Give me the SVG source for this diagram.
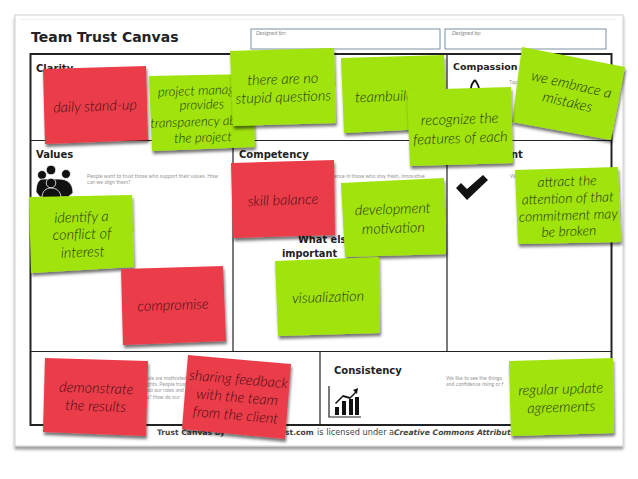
<svg xmlns="http://www.w3.org/2000/svg" width="638" height="479" viewBox="0 0 638 479">
<style>
.h{font-family:"DejaVu Sans","Liberation Sans",sans-serif;font-weight:700;fill:#222}
.s{font-family:"Lato","Liberation Sans",sans-serif;font-size:5.2px;fill:#999}
.d{font-family:"Lato","Liberation Sans",sans-serif;font-style:italic;font-size:5.5px;fill:#888}
.l{stroke:#222;fill:none}
.n{font-family:"Lato","Open Sans",sans-serif;font-style:italic;font-weight:300;font-size:14.500px;text-anchor:middle}
.m{font-size:13.200px}
.t{font-size:13.800px}
.g polygon{fill:#a0e30b;filter:url(#sh)}
.r polygon{fill:#ea3d49;filter:url(#sh)}
.g text{fill:#1c3000}
.r text{fill:#470a12}
.f{font-family:"DejaVu Sans","Liberation Sans",sans-serif;font-size:7.600px;fill:#444}
</style>
<defs>
<filter id="sh" x="-10%" y="-10%" width="120%" height="125%"><feDropShadow dx="1" dy="3" stdDeviation="1.600" flood-color="#000" flood-opacity="0.55"/></filter>
<filter id="ps" x="-3%" y="-3%" width="106%" height="106%"><feDropShadow dx="0" dy="3" stdDeviation="1.500" flood-color="#000" flood-opacity="0.4"/></filter>
</defs>
<rect width="638" height="479" fill="#fff"/>
<g id="page">
<rect x="15" y="15" width="608" height="431" fill="#fff" stroke="#d0d0d0" filter="url(#ps)"/>
<line x1="20" y1="19.500" x2="616" y2="19.500" stroke="#eee"/>
</g>
<g id="sheet">
<text class="h" x="31" y="42" font-size="14">Team Trust Canvas</text>
<rect x="251" y="29" width="189" height="20" fill="#fff" stroke="#7d90a0"/>
<rect x="445" y="29" width="161" height="20" fill="#fff" stroke="#7d90a0"/>
<text class="d" x="256" y="35">Designed for:</text>
<text class="d" x="452" y="35">Designed by:</text>
<rect class="l" x="30.500" y="54" width="581" height="371" stroke-width="2"/>
<path class="l" stroke-width="1.200" d="M31 140.500H611M31 351.500H611M233 140V351M447 54V351M320 351V425"/>
<text class="h" x="36" y="72" font-size="10">Clarity</text>
<text class="h" x="36" y="158" font-size="10">Values</text>
<text class="h" x="239" y="158" font-size="10">Competency</text>
<text class="h" x="453" y="70" font-size="9.500">Compassion</text>
<text class="h" x="511" y="158" font-size="10">nt</text>
<rect x="280" y="232" width="62" height="28" fill="#fff"/>
<text class="h" x="298" y="243" font-size="9.800">What else is</text>
<text class="h" x="282" y="257" font-size="9.800">important</text>
<text class="h" x="334" y="374" font-size="10">Consistency</text>
<text class="s" x="87" y="178">People want to trust those who support their values. How</text>
<text class="s" x="87" y="184">can we align them?</text>
<text class="s" x="334" y="178">ence in those who stay fresh, innovative</text>
<text class="s" x="510" y="178">We</text>
<text class="s" x="446" y="380">We like to see the things</text>
<text class="s" x="446" y="386">and confidence rising or f</text>
<text class="s" x="147" y="380">ple are motivated</text>
<text class="s" x="147" y="386">ghts. People trust</text>
<text class="s" x="147" y="392">do our roles and</text>
<text class="s" x="147" y="399">s? How do our</text>
<text class="s" x="509" y="84">Tap</text>
<text class="f" x="157" y="435" font-weight="700">Trust Canvas by</text>
<text class="f" x="285" y="435" font-weight="700">st.com</text>
<text class="f" x="317" y="435" style="font-size:8.200px">is licensed under a</text>
<text class="f" x="394" y="435" font-weight="700" font-style="italic">Creative Commons Attributi</text>
<g id="icon-people" fill="#111" stroke="#fff" stroke-width="0.800">
<circle cx="51" cy="170" r="4.800"/><circle cx="66" cy="174" r="4.500"/><circle cx="42" cy="175" r="4.500"/>
<path d="M36 192c0-9 3-13 7-13h16c8 0 14 4 14 14l-5 4H40z"/>
<circle cx="51" cy="183" r="4.800"/>
<path d="M42 198c0-7 4-10 9-10s10 3 10 10z"/>
</g>
<path id="icon-check" d="M456 188l5-5 6 6 16-14 5 5-21 20z" fill="#111"/>
<g id="icon-chart" fill="#111">
<path d="M329 386v31h32" fill="none" stroke="#222" stroke-width="1.200"/>
<rect x="335" y="407" width="4" height="8"/><rect x="342" y="401" width="4" height="14"/><rect x="349" y="399" width="4" height="16"/><rect x="355" y="397" width="4" height="18"/>
<path d="M335 403l8-8 7 2 5-5-2-2 5-2-1 6-1-1-6 6-7-2-7 7z"/>
</g>
<path id="icon-compass" d="M475 80c-3 3-4 7-4 9M475 80c2 3 4 7 4 9" fill="none" stroke="#111" stroke-width="1.800"/>
</g>
<g id="note-daily" class="r"><polygon points="43,69 146,66 148,140 45,144"/><text class="n" transform="rotate(-2 95 105)" x="95" y="111">daily stand-up</text></g>
<g id="note-project" class="g"><polygon points="149,76 252,74 255,147 152,151"/><g transform="rotate(-2 202 112)"><text class="n m" x="202" y="95">project manager</text><text class="n m" x="202" y="109">provides</text><text class="n m" x="202" y="126">transparency about</text><text class="n m" x="202" y="142">the project</text></g></g>
<g id="note-questions" class="g"><polygon points="230,51 334,48 336,123 233,126"/><g transform="rotate(-2 283 87)"><text class="n" x="283" y="84">there are no</text><text class="n" x="283" y="102">stupid questions</text></g></g>
<g id="note-teambuilding" class="g"><polygon points="341,58 444,55 446,128 344,133"/><text class="n" transform="rotate(-2 393 96)" x="393" y="101">teambuilding</text></g>
<g id="note-embrace" class="g"><polygon points="522,47 625,67 611,140 512,122"/><g transform="rotate(13 569 95)"><text class="n" x="569" y="89">we embrace a</text><text class="n" x="569" y="107">mistakes</text></g></g>
<g id="note-recognize" class="g"><polygon points="407,90 511,87 513,163 410,166"/><g transform="rotate(-2 460 127)"><text class="n" x="460" y="124">recognize the</text><text class="n" x="460" y="143">features of each</text></g></g>
<g id="note-attract" class="g"><polygon points="515,170 618,167 621,242 518,244"/><g transform="rotate(-2 568 206)"><text class="n t" x="568" y="186">attract the</text><text class="n t" x="568" y="203">attention of that</text><text class="n t" x="568" y="220">commitment may</text><text class="n t" x="568" y="236">be broken</text></g></g>
<g id="note-identify" class="g"><polygon points="29,197 132,195 134,267 31,273"/><g transform="rotate(-2 82 233)"><text class="n" x="82" y="222">identify a</text><text class="n" x="82" y="239">conflict of</text><text class="n" x="82" y="257">interest</text></g></g>
<g id="note-skill" class="r"><polygon points="231,163 334,160 335,235 233,238"/><text class="n" transform="rotate(-2 283 200)" x="283" y="205">skill balance</text></g>
<g id="note-development" class="g"><polygon points="341,183 444,178 446,254 345,257"/><g transform="rotate(-2 393 218)"><text class="n" x="393" y="214">development</text><text class="n" x="393" y="233">motivation</text></g></g>
<g id="note-compromise" class="r"><polygon points="121,269 223,266 226,341 123,345"/><text class="n" transform="rotate(-2 173 305)" x="173" y="310">compromise</text></g>
<g id="note-visualization" class="g"><polygon points="275,261 379,257 380,333 278,336"/><text class="n" transform="rotate(-2 328 297)" x="328" y="302">visualization</text></g>
<g id="note-demonstrate" class="r"><polygon points="45,358 148,361 146,436 43,432"/><g transform="rotate(2 96 397)"><text class="n" x="96" y="393">demonstrate</text><text class="n" x="96" y="411">the results</text></g></g>
<g id="note-sharing" class="r"><polygon points="188,355 291,364 285,439 182,429"/><g transform="rotate(5 237 397)"><text class="n" x="237" y="384">sharing feedback</text><text class="n" x="237" y="402">with the team</text><text class="n" x="237" y="420">from the client</text></g></g>
<g id="note-regular" class="g"><polygon points="509,361 613,358 614,433 511,436"/><g transform="rotate(-2 561 397)"><text class="n" x="561" y="394">regular update</text><text class="n" x="561" y="412">agreements</text></g></g>
</svg>
